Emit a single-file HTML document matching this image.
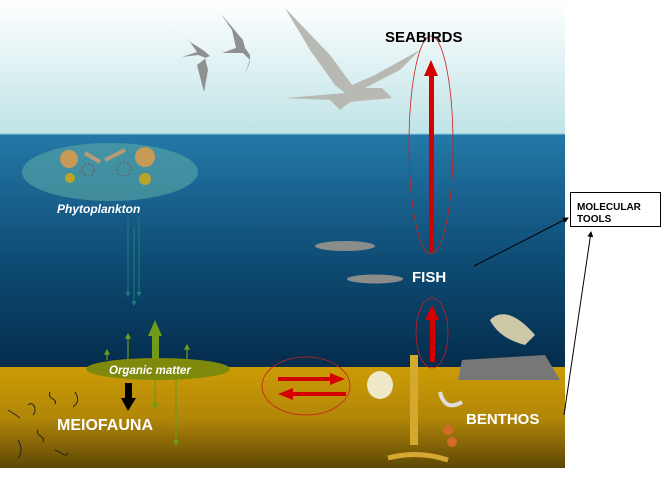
<!DOCTYPE html>
<html><head><meta charset="utf-8"><style>
html,body{margin:0;padding:0;background:#fff;}
svg{display:block;font-family:"Liberation Sans",Arial,sans-serif;}
</style></head><body>
<svg width="661" height="480" viewBox="0 0 661 480" xmlns="http://www.w3.org/2000/svg">
<defs>
<linearGradient id="sky" x1="0" y1="0" x2="0" y2="1"><stop offset="0" stop-color="#ffffff"/><stop offset="1" stop-color="#bfe3e6"/></linearGradient>
<linearGradient id="sea" x1="0" y1="0" x2="0" y2="1"><stop offset="0" stop-color="#2479a8"/><stop offset="0.5" stop-color="#0f4f78"/><stop offset="1" stop-color="#042c4c"/></linearGradient>
<linearGradient id="sed" x1="0" y1="0" x2="0" y2="1"><stop offset="0" stop-color="#cc9c06"/><stop offset="0.5" stop-color="#b28708"/><stop offset="1" stop-color="#5e4706"/></linearGradient>
<marker id="ab" markerWidth="6" markerHeight="6" refX="5" refY="3" orient="auto"><path d="M0,0 L6,3 L0,6z" fill="#000"/></marker>
<marker id="ag" markerWidth="5" markerHeight="5" refX="4" refY="2.5" orient="auto"><path d="M0,0 L5,2.5 L0,5z" fill="#6f9a1a"/></marker>
<marker id="at" markerWidth="5" markerHeight="5" refX="4" refY="2.5" orient="auto"><path d="M0,0 L5,2.5 L0,5z" fill="#1e7e78"/></marker>
</defs>
<rect x="0" y="0" width="565" height="134" fill="url(#sky)"/>
<rect x="0" y="134" width="565" height="234" fill="url(#sea)"/>
<line x1="0" y1="134" x2="565" y2="134" stroke="#8ec6d8" stroke-width="1"/>
<rect x="0" y="367" width="565" height="101" fill="url(#sed)"/>
<!-- birds -->
<path d="M161,24 L190,42 L197,52 L182,57 L198,55 L206,58 L197,65 L204,92 L208,70 L205,58 L210,56 L203,50 L195,45z" fill="#8e9190"/>
<path d="M221,14 L232,30 L236,48 L222,53 L243,53 L250,60 L244,76 L250,62 L250,55 L245,48 L243,40z" fill="#8e9190"/>
<path d="M285,8 L310,50 L335,85 L345,93 L285,98 L330,100 L340,110 L350,102 L370,100 L392,98 L382,88 L365,88 L400,70 L420,50 L375,75 L352,85 L330,55z" fill="#b9b9b4"/>
<!-- phytoplankton -->
<ellipse cx="110" cy="172" rx="88" ry="29" fill="#5aa8a6" opacity="0.6"/>
<circle cx="69" cy="159" r="9" fill="#c79a55"/><circle cx="145" cy="157" r="10" fill="#c79a55"/>
<circle cx="70" cy="178" r="5" fill="#b9a42a"/><circle cx="145" cy="179" r="6" fill="#b9a42a"/>
<path d="M85,153 L100,162 M105,160 L125,150" stroke="#b89a78" stroke-width="4"/>
<circle cx="88" cy="170" r="6" fill="none" stroke="#666" stroke-width="1.5" stroke-dasharray="2 2"/>
<circle cx="124" cy="169" r="7" fill="none" stroke="#666" stroke-width="1.5" stroke-dasharray="2 2"/>
<text x="57" y="213" font-size="12" font-weight="bold" font-style="italic" fill="#fff">Phytoplankton</text>
<g stroke="#1e7e78" stroke-width="1"><line x1="128" y1="218" x2="128" y2="296" marker-end="url(#at)"/><line x1="134" y1="228" x2="134" y2="305" marker-end="url(#at)"/><line x1="139" y1="218" x2="139" y2="296" marker-end="url(#at)"/></g>
<!-- green arrows -->
<g stroke="#6f9a1a" stroke-width="1.2"><line x1="107" y1="360" x2="107" y2="350" marker-end="url(#ag)"/><line x1="128" y1="380" x2="128" y2="334" marker-end="url(#ag)"/><line x1="187" y1="360" x2="187" y2="345" marker-end="url(#ag)"/><line x1="155" y1="375" x2="155" y2="408" marker-end="url(#ag)"/><line x1="176" y1="375" x2="176" y2="445" marker-end="url(#ag)"/></g>
<rect x="152" y="336" width="7" height="24" fill="#6f9a1a"/><path d="M148,336 L155,320 L162,336z" fill="#6f9a1a"/>
<ellipse cx="158" cy="369" rx="72" ry="11" fill="#7f8a0c"/>
<text x="109" y="374" font-size="11.5" font-weight="bold" font-style="italic" fill="#fff">Organic matter</text>
<rect x="125" y="383" width="7" height="17" fill="#000"/><path d="M121,398 L136,398 L128,411z" fill="#000"/>
<text x="57" y="430" font-size="16" font-weight="bold" fill="#fff">MEIOFAUNA</text>
<g stroke="#222" fill="none" stroke-width="1"><path d="M28,405 c5,-5 10,5 5,10"/><path d="M50,392 c-3,8 8,6 5,12"/><path d="M75,392 c5,8 2,12 -2,15"/><path d="M18,440 c5,8 3,15 0,18"/><path d="M38,430 c-3,6 8,6 5,12"/><path d="M55,450 c8,3 10,8 13,3"/><path d="M8,410 c5,3 8,5 12,8"/></g>
<!-- exchange arrows -->
<ellipse cx="306" cy="386" rx="44" ry="29" fill="none" stroke="#cc1f1f" stroke-width="0.8"/>
<rect x="278" y="377" width="54" height="4" fill="#d40000"/><path d="M330,373 L345,379 L330,385z" fill="#d40000"/>
<rect x="292" y="392" width="54" height="4" fill="#d40000"/><path d="M293,388 L278,394 L293,400z" fill="#d40000"/>
<!-- vertical arrows -->
<ellipse cx="431" cy="145" rx="22" ry="109" fill="none" stroke="#cc1f1f" stroke-width="0.8"/>
<rect x="429" y="74" width="5" height="178" fill="#d40000"/><path d="M424,76 L431,60 L438,76z" fill="#d40000"/>
<ellipse cx="432" cy="333" rx="16" ry="35" fill="none" stroke="#cc1f1f" stroke-width="0.8"/>
<rect x="430" y="318" width="5" height="44" fill="#d40000"/><path d="M425,320 L432,305 L439,320z" fill="#d40000"/>
<text x="385" y="42" font-size="15" font-weight="bold" fill="#000">SEABIRDS</text>
<text x="412" y="282" font-size="15" font-weight="bold" fill="#fff">FISH</text>
<text x="466" y="424" font-size="15" font-weight="bold" fill="#fff">BENTHOS</text>
<!-- fish -->
<ellipse cx="345" cy="246" rx="30" ry="5" fill="#8a8d8a"/><ellipse cx="375" cy="279" rx="28" ry="4.5" fill="#8a8d8a"/>
<path d="M490,320 C500,310 515,312 535,335 L525,345 C505,340 495,330 490,320z" fill="#cdc9a8"/>
<!-- benthos -->
<path d="M458,380 L462,360 L545,355 L560,380z" fill="#777"/>
<rect x="410" y="355" width="8" height="90" fill="#d5a830"/>
<path d="M388,458 q30,-8 60,2" stroke="#d5a830" stroke-width="5" fill="none"/>
<ellipse cx="380" cy="385" rx="13" ry="14" fill="#eee7c8"/>
<path d="M440,392 q5,20 22,10" stroke="#ddd" stroke-width="4" fill="none"/>
<circle cx="448" cy="430" r="5" fill="#d36a2a"/><circle cx="452" cy="442" r="5" fill="#d36a2a"/>
<!-- molecular tools -->
<rect x="570.5" y="192.5" width="90" height="34" fill="#fff" stroke="#000" stroke-width="1"/>
<text x="577" y="210" font-size="10" font-weight="bold" fill="#000">MOLECULAR</text>
<text x="577" y="222" font-size="10" font-weight="bold" fill="#000">TOOLS</text>
<line x1="474" y1="266" x2="568" y2="218" stroke="#000" stroke-width="1" marker-end="url(#ab)"/>
<line x1="564" y1="415" x2="591" y2="232" stroke="#000" stroke-width="1" marker-end="url(#ab)"/>
</svg>
</body></html>
